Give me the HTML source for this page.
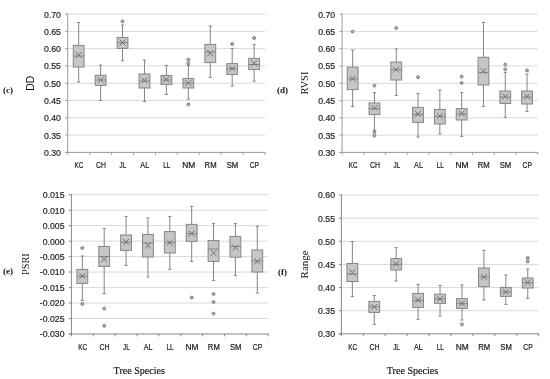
<!DOCTYPE html>
<html lang="en"><head><meta charset="utf-8"><title>Box plots of spectral indices by tree species</title>
<style>html,body{margin:0;padding:0;background:#fff}svg{display:block}.s{font-family:"Liberation Sans",sans-serif}.r{font-family:"Liberation Serif",serif}</style></head><body>
<svg width="550" height="379" viewBox="0 0 550 379">
<rect width="550" height="379" fill="#fff"/>
<g>
<line x1="67.7" y1="14.1" x2="265.1" y2="14.1" stroke="#d9d9d9" stroke-width="1"/>
<line x1="67.7" y1="31.39" x2="265.1" y2="31.39" stroke="#d9d9d9" stroke-width="1"/>
<line x1="67.7" y1="48.68" x2="265.1" y2="48.68" stroke="#d9d9d9" stroke-width="1"/>
<line x1="67.7" y1="65.96" x2="265.1" y2="65.96" stroke="#d9d9d9" stroke-width="1"/>
<line x1="67.7" y1="83.25" x2="265.1" y2="83.25" stroke="#d9d9d9" stroke-width="1"/>
<line x1="67.7" y1="100.54" x2="265.1" y2="100.54" stroke="#d9d9d9" stroke-width="1"/>
<line x1="67.7" y1="117.83" x2="265.1" y2="117.83" stroke="#d9d9d9" stroke-width="1"/>
<line x1="67.7" y1="135.11" x2="265.1" y2="135.11" stroke="#d9d9d9" stroke-width="1"/>
<line x1="65.1" y1="14.1" x2="67.7" y2="14.1" stroke="#9b9b9b" stroke-width="1"/>
<text class="s" x="60.9" y="17.5" font-size="8.7" text-anchor="end" fill="#262626" stroke="#262626" stroke-width="0.2">0.70</text>
<line x1="65.1" y1="31.39" x2="67.7" y2="31.39" stroke="#9b9b9b" stroke-width="1"/>
<text class="s" x="60.9" y="34.79" font-size="8.7" text-anchor="end" fill="#262626" stroke="#262626" stroke-width="0.2">0.65</text>
<line x1="65.1" y1="48.68" x2="67.7" y2="48.68" stroke="#9b9b9b" stroke-width="1"/>
<text class="s" x="60.9" y="52.08" font-size="8.7" text-anchor="end" fill="#262626" stroke="#262626" stroke-width="0.2">0.60</text>
<line x1="65.1" y1="65.96" x2="67.7" y2="65.96" stroke="#9b9b9b" stroke-width="1"/>
<text class="s" x="60.9" y="69.36" font-size="8.7" text-anchor="end" fill="#262626" stroke="#262626" stroke-width="0.2">0.55</text>
<line x1="65.1" y1="83.25" x2="67.7" y2="83.25" stroke="#9b9b9b" stroke-width="1"/>
<text class="s" x="60.9" y="86.65" font-size="8.7" text-anchor="end" fill="#262626" stroke="#262626" stroke-width="0.2">0.50</text>
<line x1="65.1" y1="100.54" x2="67.7" y2="100.54" stroke="#9b9b9b" stroke-width="1"/>
<text class="s" x="60.9" y="103.94" font-size="8.7" text-anchor="end" fill="#262626" stroke="#262626" stroke-width="0.2">0.45</text>
<line x1="65.1" y1="117.83" x2="67.7" y2="117.83" stroke="#9b9b9b" stroke-width="1"/>
<text class="s" x="60.9" y="121.23" font-size="8.7" text-anchor="end" fill="#262626" stroke="#262626" stroke-width="0.2">0.40</text>
<line x1="65.1" y1="135.11" x2="67.7" y2="135.11" stroke="#9b9b9b" stroke-width="1"/>
<text class="s" x="60.9" y="138.51" font-size="8.7" text-anchor="end" fill="#262626" stroke="#262626" stroke-width="0.2">0.35</text>
<line x1="65.1" y1="152.4" x2="67.7" y2="152.4" stroke="#9b9b9b" stroke-width="1"/>
<text class="s" x="60.9" y="155.8" font-size="8.7" text-anchor="end" fill="#262626" stroke="#262626" stroke-width="0.2">0.30</text>
<line x1="67.7" y1="13.6" x2="67.7" y2="152.9" stroke="#9b9b9b" stroke-width="1"/>
<line x1="65.1" y1="152.4" x2="265.6" y2="152.4" stroke="#9b9b9b" stroke-width="1"/>
<line x1="67.7" y1="152.4" x2="67.7" y2="154.8" stroke="#9b9b9b" stroke-width="1"/>
<line x1="89.63" y1="152.4" x2="89.63" y2="154.8" stroke="#9b9b9b" stroke-width="1"/>
<line x1="111.57" y1="152.4" x2="111.57" y2="154.8" stroke="#9b9b9b" stroke-width="1"/>
<line x1="133.5" y1="152.4" x2="133.5" y2="154.8" stroke="#9b9b9b" stroke-width="1"/>
<line x1="155.43" y1="152.4" x2="155.43" y2="154.8" stroke="#9b9b9b" stroke-width="1"/>
<line x1="177.37" y1="152.4" x2="177.37" y2="154.8" stroke="#9b9b9b" stroke-width="1"/>
<line x1="199.3" y1="152.4" x2="199.3" y2="154.8" stroke="#9b9b9b" stroke-width="1"/>
<line x1="221.23" y1="152.4" x2="221.23" y2="154.8" stroke="#9b9b9b" stroke-width="1"/>
<line x1="243.17" y1="152.4" x2="243.17" y2="154.8" stroke="#9b9b9b" stroke-width="1"/>
<line x1="265.1" y1="152.4" x2="265.1" y2="154.8" stroke="#9b9b9b" stroke-width="1"/>
<path d="M78.67 22.6V45.4M78.67 67V82M77.07 22.6H80.27M77.07 82H80.27" stroke="#858585" stroke-width="1" fill="none"/>
<rect x="73.27" y="45.4" width="10.8" height="21.6" fill="#c6c6c6" stroke="#858585" stroke-width="1"/>
<line x1="73.27" y1="56" x2="84.07" y2="56" stroke="#858585" stroke-width="1"/>
<path d="M75.77 52.1L81.57 57.9M75.77 57.9L81.57 52.1" stroke="#6e6e6e" stroke-width="1" fill="none"/>
<path d="M100.6 65.2V75.2M100.6 85.4V100.4M99 65.2H102.2M99 100.4H102.2" stroke="#858585" stroke-width="1" fill="none"/>
<rect x="95.2" y="75.2" width="10.8" height="10.2" fill="#c6c6c6" stroke="#858585" stroke-width="1"/>
<line x1="95.2" y1="80" x2="106" y2="80" stroke="#858585" stroke-width="1"/>
<path d="M97.7 77.1L103.5 82.9M97.7 82.9L103.5 77.1" stroke="#6e6e6e" stroke-width="1" fill="none"/>
<path d="M122.53 25V37.4M122.53 48.4V60.8M120.93 25H124.13M120.93 60.8H124.13" stroke="#858585" stroke-width="1" fill="none"/>
<rect x="117.13" y="37.4" width="10.8" height="11" fill="#c6c6c6" stroke="#858585" stroke-width="1"/>
<line x1="117.13" y1="42.6" x2="127.93" y2="42.6" stroke="#858585" stroke-width="1"/>
<path d="M119.63 39.6L125.43 45.4M119.63 45.4L125.43 39.6" stroke="#6e6e6e" stroke-width="1" fill="none"/>
<circle cx="122.53" cy="21.4" r="1.45" fill="#b4b4b4" stroke="#7c7c7c" stroke-width="1"/>
<path d="M144.47 60.2V74M144.47 88V101.6M142.87 60.2H146.07M142.87 101.6H146.07" stroke="#858585" stroke-width="1" fill="none"/>
<rect x="139.07" y="74" width="10.8" height="14" fill="#c6c6c6" stroke="#858585" stroke-width="1"/>
<line x1="139.07" y1="81" x2="149.87" y2="81" stroke="#858585" stroke-width="1"/>
<path d="M141.57 77.6L147.37 83.4M141.57 83.4L147.37 77.6" stroke="#6e6e6e" stroke-width="1" fill="none"/>
<path d="M166.4 65.4V75.5M166.4 84.4V94.4M164.8 65.4H168M164.8 94.4H168" stroke="#858585" stroke-width="1" fill="none"/>
<rect x="161" y="75.5" width="10.8" height="8.9" fill="#c6c6c6" stroke="#858585" stroke-width="1"/>
<line x1="161" y1="80" x2="171.8" y2="80" stroke="#858585" stroke-width="1"/>
<path d="M163.5 76.6L169.3 82.4M163.5 82.4L169.3 76.6" stroke="#6e6e6e" stroke-width="1" fill="none"/>
<path d="M188.33 65.6V78.4M188.33 88V99M186.73 65.6H189.93M186.73 99H189.93" stroke="#858585" stroke-width="1" fill="none"/>
<rect x="182.93" y="78.4" width="10.8" height="9.6" fill="#c6c6c6" stroke="#858585" stroke-width="1"/>
<line x1="182.93" y1="83" x2="193.73" y2="83" stroke="#858585" stroke-width="1"/>
<path d="M185.43 80.1L191.23 85.9M185.43 85.9L191.23 80.1" stroke="#6e6e6e" stroke-width="1" fill="none"/>
<circle cx="188.33" cy="59.7" r="1.45" fill="#b4b4b4" stroke="#7c7c7c" stroke-width="1"/>
<circle cx="188.33" cy="63.4" r="1.45" fill="#b4b4b4" stroke="#7c7c7c" stroke-width="1"/>
<circle cx="188.33" cy="104.4" r="1.45" fill="#b4b4b4" stroke="#7c7c7c" stroke-width="1"/>
<path d="M210.27 26V44.4M210.27 62.6V77.4M208.67 26H211.87M208.67 77.4H211.87" stroke="#858585" stroke-width="1" fill="none"/>
<rect x="204.87" y="44.4" width="10.8" height="18.2" fill="#c6c6c6" stroke="#858585" stroke-width="1"/>
<line x1="204.87" y1="52.1" x2="215.67" y2="52.1" stroke="#858585" stroke-width="1"/>
<path d="M207.37 50.4L213.17 56.2M207.37 56.2L213.17 50.4" stroke="#6e6e6e" stroke-width="1" fill="none"/>
<path d="M232.2 48.4V63.6M232.2 74.4V86M230.6 48.4H233.8M230.6 86H233.8" stroke="#858585" stroke-width="1" fill="none"/>
<rect x="226.8" y="63.6" width="10.8" height="10.8" fill="#c6c6c6" stroke="#858585" stroke-width="1"/>
<line x1="226.8" y1="68.6" x2="237.6" y2="68.6" stroke="#858585" stroke-width="1"/>
<path d="M229.3 65.7L235.1 71.5M229.3 71.5L235.1 65.7" stroke="#6e6e6e" stroke-width="1" fill="none"/>
<circle cx="232.2" cy="44" r="1.45" fill="#b4b4b4" stroke="#7c7c7c" stroke-width="1"/>
<path d="M254.13 44.4V58.4M254.13 69.6V81.2M252.53 44.4H255.73M252.53 81.2H255.73" stroke="#858585" stroke-width="1" fill="none"/>
<rect x="248.73" y="58.4" width="10.8" height="11.2" fill="#c6c6c6" stroke="#858585" stroke-width="1"/>
<line x1="248.73" y1="64.5" x2="259.53" y2="64.5" stroke="#858585" stroke-width="1"/>
<path d="M251.23 60.4L257.03 66.2M251.23 66.2L257.03 60.4" stroke="#6e6e6e" stroke-width="1" fill="none"/>
<circle cx="254.13" cy="38" r="1.45" fill="#b4b4b4" stroke="#7c7c7c" stroke-width="1"/>
<text class="s" x="78.97" y="168.4" font-size="8.8" text-anchor="middle" textLength="8.9" lengthAdjust="spacingAndGlyphs" fill="#1a1a1a" stroke="#1a1a1a" stroke-width="0.2">KC</text>
<text class="s" x="100.9" y="168.4" font-size="8.8" text-anchor="middle" textLength="10.0" lengthAdjust="spacingAndGlyphs" fill="#1a1a1a" stroke="#1a1a1a" stroke-width="0.2">CH</text>
<text class="s" x="122.83" y="168.4" font-size="8.8" text-anchor="middle" textLength="6.6" lengthAdjust="spacingAndGlyphs" fill="#1a1a1a" stroke="#1a1a1a" stroke-width="0.2">JL</text>
<text class="s" x="144.77" y="168.4" font-size="8.8" text-anchor="middle" textLength="8.8" lengthAdjust="spacingAndGlyphs" fill="#1a1a1a" stroke="#1a1a1a" stroke-width="0.2">AL</text>
<text class="s" x="166.7" y="168.4" font-size="8.8" text-anchor="middle" textLength="7.0" lengthAdjust="spacingAndGlyphs" fill="#1a1a1a" stroke="#1a1a1a" stroke-width="0.2">LL</text>
<text class="s" x="188.63" y="168.4" font-size="8.8" text-anchor="middle" textLength="13.0" lengthAdjust="spacingAndGlyphs" fill="#1a1a1a" stroke="#1a1a1a" stroke-width="0.2">NM</text>
<text class="s" x="210.57" y="168.4" font-size="8.8" text-anchor="middle" textLength="12.0" lengthAdjust="spacingAndGlyphs" fill="#1a1a1a" stroke="#1a1a1a" stroke-width="0.2">RM</text>
<text class="s" x="232.5" y="168.4" font-size="8.8" text-anchor="middle" textLength="11.6" lengthAdjust="spacingAndGlyphs" fill="#1a1a1a" stroke="#1a1a1a" stroke-width="0.2">SM</text>
<text class="s" x="254.43" y="168.4" font-size="8.8" text-anchor="middle" textLength="9.4" lengthAdjust="spacingAndGlyphs" fill="#1a1a1a" stroke="#1a1a1a" stroke-width="0.2">CP</text>
<text class="r" x="8" y="92.8" font-size="9" font-weight="bold" text-anchor="middle" fill="#111">(c)</text>
<text class="s" transform="translate(34 83.3) rotate(-90)" font-size="10" text-anchor="middle" textLength="15" lengthAdjust="spacingAndGlyphs" fill="#111">DD</text>
</g>
<g>
<line x1="342.1" y1="14.1" x2="537.8" y2="14.1" stroke="#d9d9d9" stroke-width="1"/>
<line x1="342.1" y1="31.39" x2="537.8" y2="31.39" stroke="#d9d9d9" stroke-width="1"/>
<line x1="342.1" y1="48.68" x2="537.8" y2="48.68" stroke="#d9d9d9" stroke-width="1"/>
<line x1="342.1" y1="65.96" x2="537.8" y2="65.96" stroke="#d9d9d9" stroke-width="1"/>
<line x1="342.1" y1="83.25" x2="537.8" y2="83.25" stroke="#d9d9d9" stroke-width="1"/>
<line x1="342.1" y1="100.54" x2="537.8" y2="100.54" stroke="#d9d9d9" stroke-width="1"/>
<line x1="342.1" y1="117.83" x2="537.8" y2="117.83" stroke="#d9d9d9" stroke-width="1"/>
<line x1="342.1" y1="135.11" x2="537.8" y2="135.11" stroke="#d9d9d9" stroke-width="1"/>
<line x1="339.5" y1="14.1" x2="342.1" y2="14.1" stroke="#9b9b9b" stroke-width="1"/>
<text class="s" x="335.1" y="17.5" font-size="8.7" text-anchor="end" fill="#262626" stroke="#262626" stroke-width="0.2">0.70</text>
<line x1="339.5" y1="31.39" x2="342.1" y2="31.39" stroke="#9b9b9b" stroke-width="1"/>
<text class="s" x="335.1" y="34.79" font-size="8.7" text-anchor="end" fill="#262626" stroke="#262626" stroke-width="0.2">0.65</text>
<line x1="339.5" y1="48.68" x2="342.1" y2="48.68" stroke="#9b9b9b" stroke-width="1"/>
<text class="s" x="335.1" y="52.08" font-size="8.7" text-anchor="end" fill="#262626" stroke="#262626" stroke-width="0.2">0.60</text>
<line x1="339.5" y1="65.96" x2="342.1" y2="65.96" stroke="#9b9b9b" stroke-width="1"/>
<text class="s" x="335.1" y="69.36" font-size="8.7" text-anchor="end" fill="#262626" stroke="#262626" stroke-width="0.2">0.55</text>
<line x1="339.5" y1="83.25" x2="342.1" y2="83.25" stroke="#9b9b9b" stroke-width="1"/>
<text class="s" x="335.1" y="86.65" font-size="8.7" text-anchor="end" fill="#262626" stroke="#262626" stroke-width="0.2">0.50</text>
<line x1="339.5" y1="100.54" x2="342.1" y2="100.54" stroke="#9b9b9b" stroke-width="1"/>
<text class="s" x="335.1" y="103.94" font-size="8.7" text-anchor="end" fill="#262626" stroke="#262626" stroke-width="0.2">0.45</text>
<line x1="339.5" y1="117.83" x2="342.1" y2="117.83" stroke="#9b9b9b" stroke-width="1"/>
<text class="s" x="335.1" y="121.23" font-size="8.7" text-anchor="end" fill="#262626" stroke="#262626" stroke-width="0.2">0.40</text>
<line x1="339.5" y1="135.11" x2="342.1" y2="135.11" stroke="#9b9b9b" stroke-width="1"/>
<text class="s" x="335.1" y="138.51" font-size="8.7" text-anchor="end" fill="#262626" stroke="#262626" stroke-width="0.2">0.35</text>
<line x1="339.5" y1="152.4" x2="342.1" y2="152.4" stroke="#9b9b9b" stroke-width="1"/>
<text class="s" x="335.1" y="155.8" font-size="8.7" text-anchor="end" fill="#262626" stroke="#262626" stroke-width="0.2">0.30</text>
<line x1="342.1" y1="13.6" x2="342.1" y2="152.9" stroke="#9b9b9b" stroke-width="1"/>
<line x1="339.5" y1="152.4" x2="538.3" y2="152.4" stroke="#9b9b9b" stroke-width="1"/>
<line x1="342.1" y1="152.4" x2="342.1" y2="154.8" stroke="#9b9b9b" stroke-width="1"/>
<line x1="363.84" y1="152.4" x2="363.84" y2="154.8" stroke="#9b9b9b" stroke-width="1"/>
<line x1="385.59" y1="152.4" x2="385.59" y2="154.8" stroke="#9b9b9b" stroke-width="1"/>
<line x1="407.33" y1="152.4" x2="407.33" y2="154.8" stroke="#9b9b9b" stroke-width="1"/>
<line x1="429.08" y1="152.4" x2="429.08" y2="154.8" stroke="#9b9b9b" stroke-width="1"/>
<line x1="450.82" y1="152.4" x2="450.82" y2="154.8" stroke="#9b9b9b" stroke-width="1"/>
<line x1="472.57" y1="152.4" x2="472.57" y2="154.8" stroke="#9b9b9b" stroke-width="1"/>
<line x1="494.31" y1="152.4" x2="494.31" y2="154.8" stroke="#9b9b9b" stroke-width="1"/>
<line x1="516.06" y1="152.4" x2="516.06" y2="154.8" stroke="#9b9b9b" stroke-width="1"/>
<line x1="537.8" y1="152.4" x2="537.8" y2="154.8" stroke="#9b9b9b" stroke-width="1"/>
<path d="M352.65 50V67.2M352.65 89.6V106.6M351.05 50H354.25M351.05 106.6H354.25" stroke="#858585" stroke-width="1" fill="none"/>
<rect x="347.25" y="67.2" width="10.8" height="22.4" fill="#c6c6c6" stroke="#858585" stroke-width="1"/>
<line x1="347.25" y1="79" x2="358.05" y2="79" stroke="#858585" stroke-width="1"/>
<path d="M349.75 75.6L355.55 81.4M349.75 81.4L355.55 75.6" stroke="#6e6e6e" stroke-width="1" fill="none"/>
<circle cx="352.65" cy="31.6" r="1.45" fill="#b4b4b4" stroke="#7c7c7c" stroke-width="1"/>
<path d="M374.45 92.6V103M374.45 114.6V130.2M372.85 92.6H376.05M372.85 130.2H376.05" stroke="#858585" stroke-width="1" fill="none"/>
<rect x="369.05" y="103" width="10.8" height="11.6" fill="#c6c6c6" stroke="#858585" stroke-width="1"/>
<line x1="369.05" y1="108.6" x2="379.85" y2="108.6" stroke="#858585" stroke-width="1"/>
<path d="M371.55 105.1L377.35 110.9M371.55 110.9L377.35 105.1" stroke="#6e6e6e" stroke-width="1" fill="none"/>
<circle cx="374.45" cy="85.6" r="1.45" fill="#b4b4b4" stroke="#7c7c7c" stroke-width="1"/>
<circle cx="374.45" cy="132" r="1.45" fill="#b4b4b4" stroke="#7c7c7c" stroke-width="1"/>
<circle cx="374.45" cy="135.7" r="1.45" fill="#b4b4b4" stroke="#7c7c7c" stroke-width="1"/>
<path d="M396.25 49V62M396.25 80V95.4M394.65 49H397.85M394.65 95.4H397.85" stroke="#858585" stroke-width="1" fill="none"/>
<rect x="390.85" y="62" width="10.8" height="18" fill="#c6c6c6" stroke="#858585" stroke-width="1"/>
<line x1="390.85" y1="69.7" x2="401.65" y2="69.7" stroke="#858585" stroke-width="1"/>
<path d="M393.35 66.7L399.15 72.5M393.35 72.5L399.15 66.7" stroke="#6e6e6e" stroke-width="1" fill="none"/>
<circle cx="396.25" cy="28" r="1.45" fill="#b4b4b4" stroke="#7c7c7c" stroke-width="1"/>
<path d="M418.05 93.6V107.4M418.05 122.4V137M416.45 93.6H419.65M416.45 137H419.65" stroke="#858585" stroke-width="1" fill="none"/>
<rect x="412.65" y="107.4" width="10.8" height="15" fill="#c6c6c6" stroke="#858585" stroke-width="1"/>
<line x1="412.65" y1="114.4" x2="423.45" y2="114.4" stroke="#858585" stroke-width="1"/>
<path d="M415.15 111.1L420.95 116.9M415.15 116.9L420.95 111.1" stroke="#6e6e6e" stroke-width="1" fill="none"/>
<circle cx="418.05" cy="77.2" r="1.45" fill="#b4b4b4" stroke="#7c7c7c" stroke-width="1"/>
<path d="M439.85 90V109.4M439.85 124V134M438.25 90H441.45M438.25 134H441.45" stroke="#858585" stroke-width="1" fill="none"/>
<rect x="434.45" y="109.4" width="10.8" height="14.6" fill="#c6c6c6" stroke="#858585" stroke-width="1"/>
<line x1="434.45" y1="116.4" x2="445.25" y2="116.4" stroke="#858585" stroke-width="1"/>
<path d="M436.95 113.1L442.75 118.9M436.95 118.9L442.75 113.1" stroke="#6e6e6e" stroke-width="1" fill="none"/>
<path d="M461.65 92.6V108.6M461.65 120V136.4M460.05 92.6H463.25M460.05 136.4H463.25" stroke="#858585" stroke-width="1" fill="none"/>
<rect x="456.25" y="108.6" width="10.8" height="11.4" fill="#c6c6c6" stroke="#858585" stroke-width="1"/>
<line x1="456.25" y1="114" x2="467.05" y2="114" stroke="#858585" stroke-width="1"/>
<path d="M458.75 110.6L464.55 116.4M458.75 116.4L464.55 110.6" stroke="#6e6e6e" stroke-width="1" fill="none"/>
<circle cx="461.65" cy="76.6" r="1.45" fill="#b4b4b4" stroke="#7c7c7c" stroke-width="1"/>
<circle cx="461.65" cy="83" r="1.45" fill="#b4b4b4" stroke="#7c7c7c" stroke-width="1"/>
<path d="M483.45 22.4V57.3M483.45 85V106.4M481.85 22.4H485.05M481.85 106.4H485.05" stroke="#858585" stroke-width="1" fill="none"/>
<rect x="478.05" y="57.3" width="10.8" height="27.7" fill="#c6c6c6" stroke="#858585" stroke-width="1"/>
<line x1="478.05" y1="72.4" x2="488.85" y2="72.4" stroke="#858585" stroke-width="1"/>
<path d="M480.55 68.1L486.35 73.9M480.55 73.9L486.35 68.1" stroke="#6e6e6e" stroke-width="1" fill="none"/>
<path d="M505.25 72.4V91M505.25 103.4V117.4M503.65 72.4H506.85M503.65 117.4H506.85" stroke="#858585" stroke-width="1" fill="none"/>
<rect x="499.85" y="91" width="10.8" height="12.4" fill="#c6c6c6" stroke="#858585" stroke-width="1"/>
<line x1="499.85" y1="97" x2="510.65" y2="97" stroke="#858585" stroke-width="1"/>
<path d="M502.35 93.6L508.15 99.4M502.35 99.4L508.15 93.6" stroke="#6e6e6e" stroke-width="1" fill="none"/>
<circle cx="505.25" cy="64.6" r="1.45" fill="#b4b4b4" stroke="#7c7c7c" stroke-width="1"/>
<circle cx="505.25" cy="69.4" r="1.45" fill="#b4b4b4" stroke="#7c7c7c" stroke-width="1"/>
<path d="M527.05 74V91M527.05 104V111.4M525.45 74H528.65M525.45 111.4H528.65" stroke="#858585" stroke-width="1" fill="none"/>
<rect x="521.65" y="91" width="10.8" height="13" fill="#c6c6c6" stroke="#858585" stroke-width="1"/>
<line x1="521.65" y1="97" x2="532.45" y2="97" stroke="#858585" stroke-width="1"/>
<path d="M524.15 93.6L529.95 99.4M524.15 99.4L529.95 93.6" stroke="#6e6e6e" stroke-width="1" fill="none"/>
<circle cx="527.05" cy="70.4" r="1.45" fill="#b4b4b4" stroke="#7c7c7c" stroke-width="1"/>
<text class="s" x="353.27" y="168.4" font-size="8.8" text-anchor="middle" textLength="8.9" lengthAdjust="spacingAndGlyphs" fill="#1a1a1a" stroke="#1a1a1a" stroke-width="0.2">KC</text>
<text class="s" x="375.02" y="168.4" font-size="8.8" text-anchor="middle" textLength="10.0" lengthAdjust="spacingAndGlyphs" fill="#1a1a1a" stroke="#1a1a1a" stroke-width="0.2">CH</text>
<text class="s" x="396.76" y="168.4" font-size="8.8" text-anchor="middle" textLength="6.6" lengthAdjust="spacingAndGlyphs" fill="#1a1a1a" stroke="#1a1a1a" stroke-width="0.2">JL</text>
<text class="s" x="418.51" y="168.4" font-size="8.8" text-anchor="middle" textLength="8.8" lengthAdjust="spacingAndGlyphs" fill="#1a1a1a" stroke="#1a1a1a" stroke-width="0.2">AL</text>
<text class="s" x="440.25" y="168.4" font-size="8.8" text-anchor="middle" textLength="7.0" lengthAdjust="spacingAndGlyphs" fill="#1a1a1a" stroke="#1a1a1a" stroke-width="0.2">LL</text>
<text class="s" x="461.99" y="168.4" font-size="8.8" text-anchor="middle" textLength="13.0" lengthAdjust="spacingAndGlyphs" fill="#1a1a1a" stroke="#1a1a1a" stroke-width="0.2">NM</text>
<text class="s" x="483.74" y="168.4" font-size="8.8" text-anchor="middle" textLength="12.0" lengthAdjust="spacingAndGlyphs" fill="#1a1a1a" stroke="#1a1a1a" stroke-width="0.2">RM</text>
<text class="s" x="505.48" y="168.4" font-size="8.8" text-anchor="middle" textLength="11.6" lengthAdjust="spacingAndGlyphs" fill="#1a1a1a" stroke="#1a1a1a" stroke-width="0.2">SM</text>
<text class="s" x="527.23" y="168.4" font-size="8.8" text-anchor="middle" textLength="9.4" lengthAdjust="spacingAndGlyphs" fill="#1a1a1a" stroke="#1a1a1a" stroke-width="0.2">CP</text>
<text class="r" x="282.5" y="92.8" font-size="9" font-weight="bold" text-anchor="middle" fill="#111">(d)</text>
<text class="r" transform="translate(308 83.1) rotate(-90)" font-size="10" text-anchor="middle" textLength="23" lengthAdjust="spacingAndGlyphs" fill="#111">RVSI</text>
</g>
<g>
<line x1="71.4" y1="194.7" x2="268.2" y2="194.7" stroke="#d9d9d9" stroke-width="1"/>
<line x1="71.4" y1="210.18" x2="268.2" y2="210.18" stroke="#d9d9d9" stroke-width="1"/>
<line x1="71.4" y1="225.66" x2="268.2" y2="225.66" stroke="#d9d9d9" stroke-width="1"/>
<line x1="71.4" y1="241.13" x2="268.2" y2="241.13" stroke="#d9d9d9" stroke-width="1"/>
<line x1="71.4" y1="256.61" x2="268.2" y2="256.61" stroke="#d9d9d9" stroke-width="1"/>
<line x1="71.4" y1="272.09" x2="268.2" y2="272.09" stroke="#d9d9d9" stroke-width="1"/>
<line x1="71.4" y1="287.57" x2="268.2" y2="287.57" stroke="#d9d9d9" stroke-width="1"/>
<line x1="71.4" y1="303.04" x2="268.2" y2="303.04" stroke="#d9d9d9" stroke-width="1"/>
<line x1="71.4" y1="318.52" x2="268.2" y2="318.52" stroke="#d9d9d9" stroke-width="1"/>
<line x1="68.8" y1="194.7" x2="71.4" y2="194.7" stroke="#868686" stroke-width="1"/>
<text class="s" x="64.5" y="198.1" font-size="8.7" text-anchor="end" fill="#262626" stroke="#262626" stroke-width="0.2">0.015</text>
<line x1="68.8" y1="210.18" x2="71.4" y2="210.18" stroke="#868686" stroke-width="1"/>
<text class="s" x="64.5" y="213.58" font-size="8.7" text-anchor="end" fill="#262626" stroke="#262626" stroke-width="0.2">0.010</text>
<line x1="68.8" y1="225.66" x2="71.4" y2="225.66" stroke="#868686" stroke-width="1"/>
<text class="s" x="64.5" y="229.06" font-size="8.7" text-anchor="end" fill="#262626" stroke="#262626" stroke-width="0.2">0.005</text>
<line x1="68.8" y1="241.13" x2="71.4" y2="241.13" stroke="#868686" stroke-width="1"/>
<text class="s" x="64.5" y="244.53" font-size="8.7" text-anchor="end" fill="#262626" stroke="#262626" stroke-width="0.2">0.000</text>
<line x1="68.8" y1="256.61" x2="71.4" y2="256.61" stroke="#868686" stroke-width="1"/>
<text class="s" x="64.5" y="260.01" font-size="8.7" text-anchor="end" fill="#262626" stroke="#262626" stroke-width="0.2">-0.005</text>
<line x1="68.8" y1="272.09" x2="71.4" y2="272.09" stroke="#868686" stroke-width="1"/>
<text class="s" x="64.5" y="275.49" font-size="8.7" text-anchor="end" fill="#262626" stroke="#262626" stroke-width="0.2">-0.010</text>
<line x1="68.8" y1="287.57" x2="71.4" y2="287.57" stroke="#868686" stroke-width="1"/>
<text class="s" x="64.5" y="290.97" font-size="8.7" text-anchor="end" fill="#262626" stroke="#262626" stroke-width="0.2">-0.015</text>
<line x1="68.8" y1="303.04" x2="71.4" y2="303.04" stroke="#868686" stroke-width="1"/>
<text class="s" x="64.5" y="306.44" font-size="8.7" text-anchor="end" fill="#262626" stroke="#262626" stroke-width="0.2">-0.020</text>
<line x1="68.8" y1="318.52" x2="71.4" y2="318.52" stroke="#868686" stroke-width="1"/>
<text class="s" x="64.5" y="321.92" font-size="8.7" text-anchor="end" fill="#262626" stroke="#262626" stroke-width="0.2">-0.025</text>
<line x1="68.8" y1="334" x2="71.4" y2="334" stroke="#868686" stroke-width="1"/>
<text class="s" x="64.5" y="337.4" font-size="8.7" text-anchor="end" fill="#262626" stroke="#262626" stroke-width="0.2">-0.030</text>
<line x1="71.4" y1="194.2" x2="71.4" y2="334.5" stroke="#868686" stroke-width="1"/>
<line x1="68.8" y1="334" x2="268.7" y2="334" stroke="#868686" stroke-width="1"/>
<line x1="71.4" y1="334" x2="71.4" y2="336.4" stroke="#868686" stroke-width="1"/>
<line x1="93.27" y1="334" x2="93.27" y2="336.4" stroke="#868686" stroke-width="1"/>
<line x1="115.13" y1="334" x2="115.13" y2="336.4" stroke="#868686" stroke-width="1"/>
<line x1="137" y1="334" x2="137" y2="336.4" stroke="#868686" stroke-width="1"/>
<line x1="158.87" y1="334" x2="158.87" y2="336.4" stroke="#868686" stroke-width="1"/>
<line x1="180.73" y1="334" x2="180.73" y2="336.4" stroke="#868686" stroke-width="1"/>
<line x1="202.6" y1="334" x2="202.6" y2="336.4" stroke="#868686" stroke-width="1"/>
<line x1="224.47" y1="334" x2="224.47" y2="336.4" stroke="#868686" stroke-width="1"/>
<line x1="246.33" y1="334" x2="246.33" y2="336.4" stroke="#868686" stroke-width="1"/>
<line x1="268.2" y1="334" x2="268.2" y2="336.4" stroke="#868686" stroke-width="1"/>
<path d="M82.33 256V269.4M82.33 283.4V300.4M80.73 256H83.93M80.73 300.4H83.93" stroke="#858585" stroke-width="1" fill="none"/>
<rect x="76.93" y="269.4" width="10.8" height="14" fill="#c6c6c6" stroke="#858585" stroke-width="1"/>
<line x1="76.93" y1="276.2" x2="87.73" y2="276.2" stroke="#858585" stroke-width="1"/>
<path d="M79.43 273.1L85.23 278.9M79.43 278.9L85.23 273.1" stroke="#6e6e6e" stroke-width="1" fill="none"/>
<circle cx="82.33" cy="248" r="1.45" fill="#b4b4b4" stroke="#7c7c7c" stroke-width="1"/>
<circle cx="82.33" cy="304" r="1.45" fill="#b4b4b4" stroke="#7c7c7c" stroke-width="1"/>
<path d="M104.2 228.4V246.4M104.2 266.4V293.5M102.6 228.4H105.8M102.6 293.5H105.8" stroke="#858585" stroke-width="1" fill="none"/>
<rect x="98.8" y="246.4" width="10.8" height="20" fill="#c6c6c6" stroke="#858585" stroke-width="1"/>
<line x1="98.8" y1="256.5" x2="109.6" y2="256.5" stroke="#858585" stroke-width="1"/>
<path d="M101.3 256.5L107.1 262.3M101.3 262.3L107.1 256.5" stroke="#6e6e6e" stroke-width="1" fill="none"/>
<circle cx="104.2" cy="308.6" r="1.45" fill="#b4b4b4" stroke="#7c7c7c" stroke-width="1"/>
<circle cx="104.2" cy="325.8" r="1.45" fill="#b4b4b4" stroke="#7c7c7c" stroke-width="1"/>
<path d="M126.07 216.4V235M126.07 250.4V265.4M124.47 216.4H127.67M124.47 265.4H127.67" stroke="#858585" stroke-width="1" fill="none"/>
<rect x="120.67" y="235" width="10.8" height="15.4" fill="#c6c6c6" stroke="#858585" stroke-width="1"/>
<line x1="120.67" y1="242" x2="131.47" y2="242" stroke="#858585" stroke-width="1"/>
<path d="M123.17 239.1L128.97 244.9M123.17 244.9L128.97 239.1" stroke="#6e6e6e" stroke-width="1" fill="none"/>
<path d="M147.93 218V234.4M147.93 257V277M146.33 218H149.53M146.33 277H149.53" stroke="#858585" stroke-width="1" fill="none"/>
<rect x="142.53" y="234.4" width="10.8" height="22.6" fill="#c6c6c6" stroke="#858585" stroke-width="1"/>
<line x1="142.53" y1="243" x2="153.33" y2="243" stroke="#858585" stroke-width="1"/>
<path d="M145.03 242.6L150.83 248.4M145.03 248.4L150.83 242.6" stroke="#6e6e6e" stroke-width="1" fill="none"/>
<path d="M169.8 216.4V231.6M169.8 253V269.4M168.2 216.4H171.4M168.2 269.4H171.4" stroke="#858585" stroke-width="1" fill="none"/>
<rect x="164.4" y="231.6" width="10.8" height="21.4" fill="#c6c6c6" stroke="#858585" stroke-width="1"/>
<line x1="164.4" y1="242.4" x2="175.2" y2="242.4" stroke="#858585" stroke-width="1"/>
<path d="M166.9 239.6L172.7 245.4M166.9 245.4L172.7 239.6" stroke="#6e6e6e" stroke-width="1" fill="none"/>
<path d="M191.67 206.4V224.4M191.67 241.4V261.4M190.07 206.4H193.27M190.07 261.4H193.27" stroke="#858585" stroke-width="1" fill="none"/>
<rect x="186.27" y="224.4" width="10.8" height="17" fill="#c6c6c6" stroke="#858585" stroke-width="1"/>
<line x1="186.27" y1="233.6" x2="197.07" y2="233.6" stroke="#858585" stroke-width="1"/>
<path d="M188.77 230.6L194.57 236.4M188.77 236.4L194.57 230.6" stroke="#6e6e6e" stroke-width="1" fill="none"/>
<circle cx="191.67" cy="297.6" r="1.45" fill="#b4b4b4" stroke="#7c7c7c" stroke-width="1"/>
<path d="M213.53 223.4V240.6M213.53 261.4V280.4M211.93 223.4H215.13M211.93 280.4H215.13" stroke="#858585" stroke-width="1" fill="none"/>
<rect x="208.13" y="240.6" width="10.8" height="20.8" fill="#c6c6c6" stroke="#858585" stroke-width="1"/>
<line x1="208.13" y1="249" x2="218.93" y2="249" stroke="#858585" stroke-width="1"/>
<path d="M210.63 250.1L216.43 255.9M210.63 255.9L216.43 250.1" stroke="#6e6e6e" stroke-width="1" fill="none"/>
<circle cx="213.53" cy="294" r="1.45" fill="#b4b4b4" stroke="#7c7c7c" stroke-width="1"/>
<circle cx="213.53" cy="302" r="1.45" fill="#b4b4b4" stroke="#7c7c7c" stroke-width="1"/>
<circle cx="213.53" cy="313.6" r="1.45" fill="#b4b4b4" stroke="#7c7c7c" stroke-width="1"/>
<path d="M235.4 223.6V236.4M235.4 257.2V275.6M233.8 223.6H237M233.8 275.6H237" stroke="#858585" stroke-width="1" fill="none"/>
<rect x="230" y="236.4" width="10.8" height="20.8" fill="#c6c6c6" stroke="#858585" stroke-width="1"/>
<line x1="230" y1="246.6" x2="240.8" y2="246.6" stroke="#858585" stroke-width="1"/>
<path d="M232.5 244.6L238.3 250.4M232.5 250.4L238.3 244.6" stroke="#6e6e6e" stroke-width="1" fill="none"/>
<path d="M257.27 226.4V250M257.27 272V293M255.67 226.4H258.87M255.67 293H258.87" stroke="#858585" stroke-width="1" fill="none"/>
<rect x="251.87" y="250" width="10.8" height="22" fill="#c6c6c6" stroke="#858585" stroke-width="1"/>
<line x1="251.87" y1="261" x2="262.67" y2="261" stroke="#858585" stroke-width="1"/>
<path d="M254.37 258.6L260.17 264.4M254.37 264.4L260.17 258.6" stroke="#6e6e6e" stroke-width="1" fill="none"/>
<text class="s" x="82.63" y="349.8" font-size="8.8" text-anchor="middle" textLength="8.9" lengthAdjust="spacingAndGlyphs" fill="#1a1a1a" stroke="#1a1a1a" stroke-width="0.2">KC</text>
<text class="s" x="104.5" y="349.8" font-size="8.8" text-anchor="middle" textLength="10.0" lengthAdjust="spacingAndGlyphs" fill="#1a1a1a" stroke="#1a1a1a" stroke-width="0.2">CH</text>
<text class="s" x="126.37" y="349.8" font-size="8.8" text-anchor="middle" textLength="6.6" lengthAdjust="spacingAndGlyphs" fill="#1a1a1a" stroke="#1a1a1a" stroke-width="0.2">JL</text>
<text class="s" x="148.23" y="349.8" font-size="8.8" text-anchor="middle" textLength="8.8" lengthAdjust="spacingAndGlyphs" fill="#1a1a1a" stroke="#1a1a1a" stroke-width="0.2">AL</text>
<text class="s" x="170.1" y="349.8" font-size="8.8" text-anchor="middle" textLength="7.0" lengthAdjust="spacingAndGlyphs" fill="#1a1a1a" stroke="#1a1a1a" stroke-width="0.2">LL</text>
<text class="s" x="191.97" y="349.8" font-size="8.8" text-anchor="middle" textLength="13.0" lengthAdjust="spacingAndGlyphs" fill="#1a1a1a" stroke="#1a1a1a" stroke-width="0.2">NM</text>
<text class="s" x="213.83" y="349.8" font-size="8.8" text-anchor="middle" textLength="12.0" lengthAdjust="spacingAndGlyphs" fill="#1a1a1a" stroke="#1a1a1a" stroke-width="0.2">RM</text>
<text class="s" x="235.7" y="349.8" font-size="8.8" text-anchor="middle" textLength="11.6" lengthAdjust="spacingAndGlyphs" fill="#1a1a1a" stroke="#1a1a1a" stroke-width="0.2">SM</text>
<text class="s" x="257.57" y="349.8" font-size="8.8" text-anchor="middle" textLength="9.4" lengthAdjust="spacingAndGlyphs" fill="#1a1a1a" stroke="#1a1a1a" stroke-width="0.2">CP</text>
<text class="r" x="8" y="274.4" font-size="9" font-weight="bold" text-anchor="middle" fill="#111">(e)</text>
<text class="r" transform="translate(29.2 264.2) rotate(-90)" font-size="10" text-anchor="middle" textLength="21.6" lengthAdjust="spacingAndGlyphs" fill="#111">PSRI</text>
<text class="r" x="139.3" y="374.4" font-size="10" text-anchor="middle" textLength="51.4" lengthAdjust="spacingAndGlyphs" fill="#111" stroke="#111" stroke-width="0.15">Tree Species</text>
</g>
<g>
<line x1="341.4" y1="195" x2="538.7" y2="195" stroke="#d9d9d9" stroke-width="1"/>
<line x1="341.4" y1="218.14" x2="538.7" y2="218.14" stroke="#d9d9d9" stroke-width="1"/>
<line x1="341.4" y1="241.28" x2="538.7" y2="241.28" stroke="#d9d9d9" stroke-width="1"/>
<line x1="341.4" y1="264.43" x2="538.7" y2="264.43" stroke="#d9d9d9" stroke-width="1"/>
<line x1="341.4" y1="287.57" x2="538.7" y2="287.57" stroke="#d9d9d9" stroke-width="1"/>
<line x1="341.4" y1="310.71" x2="538.7" y2="310.71" stroke="#d9d9d9" stroke-width="1"/>
<line x1="338.8" y1="195" x2="341.4" y2="195" stroke="#868686" stroke-width="1"/>
<text class="s" x="335" y="198.4" font-size="8.7" text-anchor="end" fill="#262626" stroke="#262626" stroke-width="0.2">0.60</text>
<line x1="338.8" y1="218.14" x2="341.4" y2="218.14" stroke="#868686" stroke-width="1"/>
<text class="s" x="335" y="221.54" font-size="8.7" text-anchor="end" fill="#262626" stroke="#262626" stroke-width="0.2">0.55</text>
<line x1="338.8" y1="241.28" x2="341.4" y2="241.28" stroke="#868686" stroke-width="1"/>
<text class="s" x="335" y="244.68" font-size="8.7" text-anchor="end" fill="#262626" stroke="#262626" stroke-width="0.2">0.50</text>
<line x1="338.8" y1="264.43" x2="341.4" y2="264.43" stroke="#868686" stroke-width="1"/>
<text class="s" x="335" y="267.82" font-size="8.7" text-anchor="end" fill="#262626" stroke="#262626" stroke-width="0.2">0.45</text>
<line x1="338.8" y1="287.57" x2="341.4" y2="287.57" stroke="#868686" stroke-width="1"/>
<text class="s" x="335" y="290.97" font-size="8.7" text-anchor="end" fill="#262626" stroke="#262626" stroke-width="0.2">0.40</text>
<line x1="338.8" y1="310.71" x2="341.4" y2="310.71" stroke="#868686" stroke-width="1"/>
<text class="s" x="335" y="314.11" font-size="8.7" text-anchor="end" fill="#262626" stroke="#262626" stroke-width="0.2">0.35</text>
<line x1="338.8" y1="333.85" x2="341.4" y2="333.85" stroke="#868686" stroke-width="1"/>
<text class="s" x="335" y="337.25" font-size="8.7" text-anchor="end" fill="#262626" stroke="#262626" stroke-width="0.2">0.30</text>
<line x1="341.4" y1="194.5" x2="341.4" y2="334.35" stroke="#868686" stroke-width="1"/>
<line x1="338.8" y1="333.85" x2="539.2" y2="333.85" stroke="#868686" stroke-width="1"/>
<line x1="341.4" y1="333.85" x2="341.4" y2="336.25" stroke="#868686" stroke-width="1"/>
<line x1="363.32" y1="333.85" x2="363.32" y2="336.25" stroke="#868686" stroke-width="1"/>
<line x1="385.24" y1="333.85" x2="385.24" y2="336.25" stroke="#868686" stroke-width="1"/>
<line x1="407.17" y1="333.85" x2="407.17" y2="336.25" stroke="#868686" stroke-width="1"/>
<line x1="429.09" y1="333.85" x2="429.09" y2="336.25" stroke="#868686" stroke-width="1"/>
<line x1="451.01" y1="333.85" x2="451.01" y2="336.25" stroke="#868686" stroke-width="1"/>
<line x1="472.93" y1="333.85" x2="472.93" y2="336.25" stroke="#868686" stroke-width="1"/>
<line x1="494.86" y1="333.85" x2="494.86" y2="336.25" stroke="#868686" stroke-width="1"/>
<line x1="516.78" y1="333.85" x2="516.78" y2="336.25" stroke="#868686" stroke-width="1"/>
<line x1="538.7" y1="333.85" x2="538.7" y2="336.25" stroke="#868686" stroke-width="1"/>
<path d="M352.36 241.6V263.5M352.36 281.5V296.6M350.76 241.6H353.96M350.76 296.6H353.96" stroke="#858585" stroke-width="1" fill="none"/>
<rect x="346.96" y="263.5" width="10.8" height="18" fill="#c6c6c6" stroke="#858585" stroke-width="1"/>
<line x1="346.96" y1="274" x2="357.76" y2="274" stroke="#858585" stroke-width="1"/>
<path d="M349.46 269.5L355.26 275.3M349.46 275.3L355.26 269.5" stroke="#6e6e6e" stroke-width="1" fill="none"/>
<path d="M374.28 295.4V301.4M374.28 312.4V324.4M372.68 295.4H375.88M372.68 324.4H375.88" stroke="#858585" stroke-width="1" fill="none"/>
<rect x="368.88" y="301.4" width="10.8" height="11" fill="#c6c6c6" stroke="#858585" stroke-width="1"/>
<line x1="368.88" y1="306.8" x2="379.68" y2="306.8" stroke="#858585" stroke-width="1"/>
<path d="M371.38 304.1L377.18 309.9M371.38 309.9L377.18 304.1" stroke="#6e6e6e" stroke-width="1" fill="none"/>
<path d="M396.21 247.6V258.6M396.21 270V281M394.61 247.6H397.81M394.61 281H397.81" stroke="#858585" stroke-width="1" fill="none"/>
<rect x="390.81" y="258.6" width="10.8" height="11.4" fill="#c6c6c6" stroke="#858585" stroke-width="1"/>
<line x1="390.81" y1="264.4" x2="401.61" y2="264.4" stroke="#858585" stroke-width="1"/>
<path d="M393.31 261.1L399.11 266.9M393.31 266.9L399.11 261.1" stroke="#6e6e6e" stroke-width="1" fill="none"/>
<path d="M418.13 284.4V293.4M418.13 307.4V319.4M416.53 284.4H419.73M416.53 319.4H419.73" stroke="#858585" stroke-width="1" fill="none"/>
<rect x="412.73" y="293.4" width="10.8" height="14" fill="#c6c6c6" stroke="#858585" stroke-width="1"/>
<line x1="412.73" y1="300.4" x2="423.53" y2="300.4" stroke="#858585" stroke-width="1"/>
<path d="M415.23 297.1L421.03 302.9M415.23 302.9L421.03 297.1" stroke="#6e6e6e" stroke-width="1" fill="none"/>
<path d="M440.05 285.4V294.2M440.05 303.4V316M438.45 285.4H441.65M438.45 316H441.65" stroke="#858585" stroke-width="1" fill="none"/>
<rect x="434.65" y="294.2" width="10.8" height="9.2" fill="#c6c6c6" stroke="#858585" stroke-width="1"/>
<line x1="434.65" y1="299" x2="445.45" y2="299" stroke="#858585" stroke-width="1"/>
<path d="M437.15 296.1L442.95 301.9M437.15 301.9L442.95 296.1" stroke="#6e6e6e" stroke-width="1" fill="none"/>
<path d="M461.97 285V298.6M461.97 308.4V320M460.37 285H463.57M460.37 320H463.57" stroke="#858585" stroke-width="1" fill="none"/>
<rect x="456.57" y="298.6" width="10.8" height="9.8" fill="#c6c6c6" stroke="#858585" stroke-width="1"/>
<line x1="456.57" y1="303.6" x2="467.37" y2="303.6" stroke="#858585" stroke-width="1"/>
<path d="M459.07 300.6L464.87 306.4M459.07 306.4L464.87 300.6" stroke="#6e6e6e" stroke-width="1" fill="none"/>
<circle cx="461.97" cy="324.4" r="1.45" fill="#b4b4b4" stroke="#7c7c7c" stroke-width="1"/>
<path d="M483.89 250.4V268M483.89 286.6V300M482.29 250.4H485.49M482.29 300H485.49" stroke="#858585" stroke-width="1" fill="none"/>
<rect x="478.49" y="268" width="10.8" height="18.6" fill="#c6c6c6" stroke="#858585" stroke-width="1"/>
<line x1="478.49" y1="277" x2="489.29" y2="277" stroke="#858585" stroke-width="1"/>
<path d="M480.99 274.1L486.79 279.9M480.99 279.9L486.79 274.1" stroke="#6e6e6e" stroke-width="1" fill="none"/>
<path d="M505.82 275V287.4M505.82 296.4V304.4M504.22 275H507.42M504.22 304.4H507.42" stroke="#858585" stroke-width="1" fill="none"/>
<rect x="500.42" y="287.4" width="10.8" height="9" fill="#c6c6c6" stroke="#858585" stroke-width="1"/>
<line x1="500.42" y1="292" x2="511.22" y2="292" stroke="#858585" stroke-width="1"/>
<path d="M502.92 289.1L508.72 294.9M502.92 294.9L508.72 289.1" stroke="#6e6e6e" stroke-width="1" fill="none"/>
<path d="M527.74 269V278M527.74 288V298.4M526.14 269H529.34M526.14 298.4H529.34" stroke="#858585" stroke-width="1" fill="none"/>
<rect x="522.34" y="278" width="10.8" height="10" fill="#c6c6c6" stroke="#858585" stroke-width="1"/>
<line x1="522.34" y1="282.6" x2="533.14" y2="282.6" stroke="#858585" stroke-width="1"/>
<path d="M524.84 279.6L530.64 285.4M524.84 285.4L530.64 279.6" stroke="#6e6e6e" stroke-width="1" fill="none"/>
<circle cx="527.74" cy="258" r="1.45" fill="#b4b4b4" stroke="#7c7c7c" stroke-width="1"/>
<circle cx="527.74" cy="261.4" r="1.45" fill="#b4b4b4" stroke="#7c7c7c" stroke-width="1"/>
<text class="s" x="352.66" y="349.8" font-size="8.8" text-anchor="middle" textLength="8.9" lengthAdjust="spacingAndGlyphs" fill="#1a1a1a" stroke="#1a1a1a" stroke-width="0.2">KC</text>
<text class="s" x="374.58" y="349.8" font-size="8.8" text-anchor="middle" textLength="10.0" lengthAdjust="spacingAndGlyphs" fill="#1a1a1a" stroke="#1a1a1a" stroke-width="0.2">CH</text>
<text class="s" x="396.51" y="349.8" font-size="8.8" text-anchor="middle" textLength="6.6" lengthAdjust="spacingAndGlyphs" fill="#1a1a1a" stroke="#1a1a1a" stroke-width="0.2">JL</text>
<text class="s" x="418.43" y="349.8" font-size="8.8" text-anchor="middle" textLength="8.8" lengthAdjust="spacingAndGlyphs" fill="#1a1a1a" stroke="#1a1a1a" stroke-width="0.2">AL</text>
<text class="s" x="440.35" y="349.8" font-size="8.8" text-anchor="middle" textLength="7.0" lengthAdjust="spacingAndGlyphs" fill="#1a1a1a" stroke="#1a1a1a" stroke-width="0.2">LL</text>
<text class="s" x="462.27" y="349.8" font-size="8.8" text-anchor="middle" textLength="13.0" lengthAdjust="spacingAndGlyphs" fill="#1a1a1a" stroke="#1a1a1a" stroke-width="0.2">NM</text>
<text class="s" x="484.19" y="349.8" font-size="8.8" text-anchor="middle" textLength="12.0" lengthAdjust="spacingAndGlyphs" fill="#1a1a1a" stroke="#1a1a1a" stroke-width="0.2">RM</text>
<text class="s" x="506.12" y="349.8" font-size="8.8" text-anchor="middle" textLength="11.6" lengthAdjust="spacingAndGlyphs" fill="#1a1a1a" stroke="#1a1a1a" stroke-width="0.2">SM</text>
<text class="s" x="528.04" y="349.8" font-size="8.8" text-anchor="middle" textLength="9.4" lengthAdjust="spacingAndGlyphs" fill="#1a1a1a" stroke="#1a1a1a" stroke-width="0.2">CP</text>
<text class="r" x="282.5" y="274.8" font-size="9" font-weight="bold" text-anchor="middle" fill="#111">(f)</text>
<text class="r" transform="translate(308 264.4) rotate(-90)" font-size="10" text-anchor="middle" textLength="28" lengthAdjust="spacingAndGlyphs" fill="#111">Range</text>
<text class="r" x="412.5" y="374.4" font-size="10" text-anchor="middle" textLength="51.4" lengthAdjust="spacingAndGlyphs" fill="#111" stroke="#111" stroke-width="0.15">Tree Species</text>
</g>
</svg></body></html>
